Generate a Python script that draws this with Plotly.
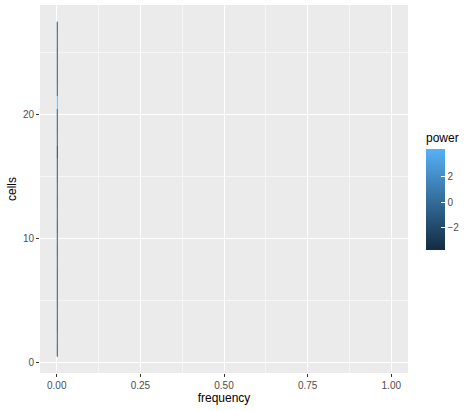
import plotly.graph_objects as go

# frequency bin edges (only the lowest bin carries power)
freq_edges = [0.0, 0.003]
cells = list(range(1, 28))

# power per cell in the lowest frequency bin
power = [-1.9, -1.6, -2.2, -1.5, -1.8, -1.7, -2.0, -1.6, -1.9, -1.4,
         -2.1, -1.6, -1.8, -1.5, -2.0, -1.7, -3.8, -1.6, -1.9, -1.7,
         4.2, -1.5, -1.8, -1.7, -2.0, -1.6, -1.8]

z = [[p] for p in power]

x_ticks = [0.0, 0.25, 0.5, 0.75, 1.0]
x_labels = ["0.00", "0.25", "0.50", "0.75", "1.00"]
y_ticks = [0, 10, 20]

fig = go.Figure()
fig.add_trace(go.Heatmap(
    x=freq_edges,
    y=cells,
    z=z,
    colorscale=[[0, "#132B43"], [1, "#56B1F7"]],
    colorbar=dict(
        title=dict(text="power", side="top", font=dict(size=12, color="#000000")),
        x=1.0, xanchor="left", xpad=18,
        y=1 - (130 - 5) / 368, yanchor="top",
        len=120, lenmode="pixels", ypad=0,
        thickness=19,
        outlinewidth=0,
        ticks="inside", ticklen=4, tickcolor="#FFFFFF",
        tickvals=[-2, 0, 2],
        tickfont=dict(size=10, color="#4D4D4D"),
    ),
    hoverongaps=False,
))

fig.update_layout(
    width=474, height=411,
    margin=dict(l=40, r=66, t=5, b=38, autoexpand=False),
    plot_bgcolor="#EBEBEB",
    paper_bgcolor="#FFFFFF",
    font=dict(family="Liberation Sans, Arial, sans-serif", color="#4D4D4D"),
)

fig.update_xaxes(
    range=[-0.05, 1.05],
    tickvals=x_ticks, ticktext=x_labels,
    ticks="outside", ticklen=3, tickcolor="#333333",
    tickfont=dict(size=10, color="#4D4D4D"),
    showgrid=True, gridcolor="#FFFFFF", gridwidth=1.1,
    minor=dict(dtick=0.25, tick0=0.125, showgrid=True, gridcolor="#F6F6F6", gridwidth=0.6),
    zeroline=False, showline=False,
    title=dict(text="frequency", font=dict(size=12, color="#000000"), standoff=3),
)

fig.update_yaxes(
    range=[-0.85, 28.85],
    tickvals=y_ticks,
    ticks="outside", ticklen=3, tickcolor="#333333",
    tickfont=dict(size=10, color="#4D4D4D"),
    showgrid=True, gridcolor="#FFFFFF", gridwidth=1.1,
    minor=dict(dtick=10, tick0=5, showgrid=True, gridcolor="#F6F6F6", gridwidth=0.6),
    zeroline=False, showline=False,
    title=dict(text="cells", font=dict(size=12, color="#000000"), standoff=3),
)

fig.write_html("out.html", config={"displayModeBar": False},
               post_script="document.body.style.margin='0';")
